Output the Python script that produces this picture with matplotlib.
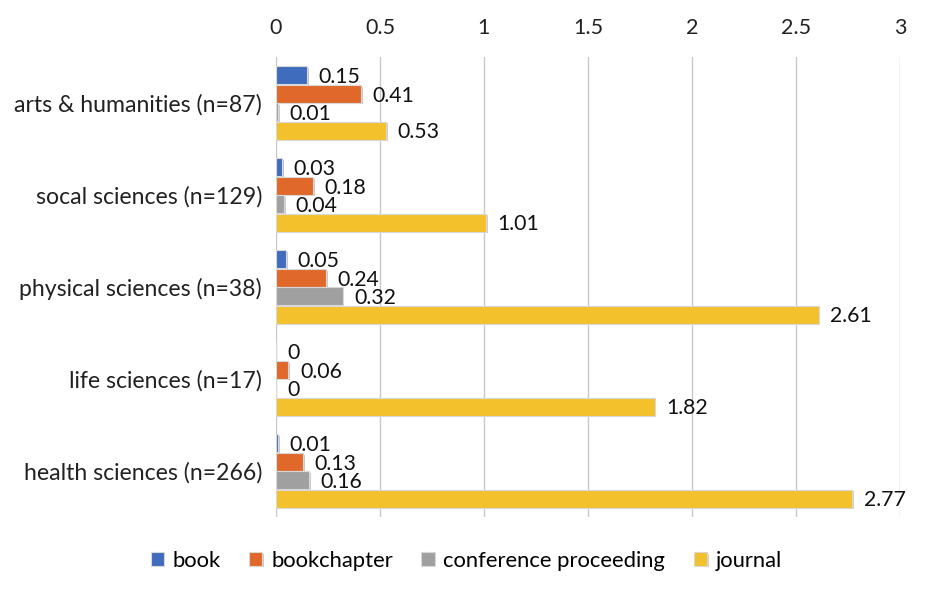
import numpy as np
import matplotlib.pyplot as plt
import matplotlib.patheffects as pe

# データ
categories = ['arts & humanities (n=87)', 'socal sciences (n=129)', 'physical sciences (n=38)',
              'life sciences (n=17)', 'health sciences (n=266)']
series_names = ['book', 'bookchapter', 'conference proceeding', 'journal']
book = [0.15, 0.03, 0.05, 0, 0.01]
bookchapter = [0.41, 0.18, 0.24, 0.06, 0.13]
conference = [0.01, 0.04, 0.32, 0, 0.16]
journal = [0.53, 1.01, 2.61, 1.82, 2.77]
x_ticks = [0, 0.5, 1, 1.5, 2, 2.5, 3]

colors = ['#3F6CBD', '#E0682A', '#A0A0A0', '#F2C12C']

plt.rcParams['font.family'] = ['Lato', 'DejaVu Sans']

fig = plt.figure(figsize=(9.27, 5.91), dpi=100)
ax = fig.add_axes([0.2977, 0.1252, 0.6731, 0.7784])

y = np.arange(len(categories))
h = 0.2
values = [book, bookchapter, conference, journal]
shadow = [pe.SimplePatchShadow(offset=(1.2, -1.2), alpha=0.25), pe.Normal()]
for i, (name, vals) in enumerate(zip(series_names, values)):
    pos = y - 1.5 * h + i * h
    bars = ax.barh(pos, vals, height=h * 0.97, color=colors[i], edgecolor='#D8D8D8',
                   linewidth=0.8, label=name, zorder=3)
    for b in bars:
        b.set_path_effects(shadow)
    for p, v in zip(pos, vals):
        ax.text(v + 0.055, p + 0.02, '%g' % v, va='center', ha='left',
                fontsize=15.3, color='#111111', zorder=4)

ax.set_ylim(len(categories) - 0.5, -0.5)
ax.set_xlim(0, 3)
ax.set_yticks(y)
ax.set_yticklabels(categories, fontsize=16.6, color='#222222')
ax.set_xticks(x_ticks)
ax.set_xticklabels(['%g' % t for t in x_ticks], fontsize=15.5, color='#222222')
ax.xaxis.tick_top()
ax.tick_params(axis='y', length=0, pad=10)
ax.tick_params(axis='x', length=0, pad=14)
ax.grid(axis='x', color='#C8C8C8', linewidth=1, zorder=0)
for s in ax.spines.values():
    s.set_visible(False)

ax.legend(loc='upper center', bbox_to_anchor=(0.305, -0.03), ncol=4, frameon=False,
          fontsize=15.8, handlelength=0.6, handleheight=0.6, handletextpad=0.4,
          columnspacing=1.3)

fig.savefig('out.png', dpi=100)
